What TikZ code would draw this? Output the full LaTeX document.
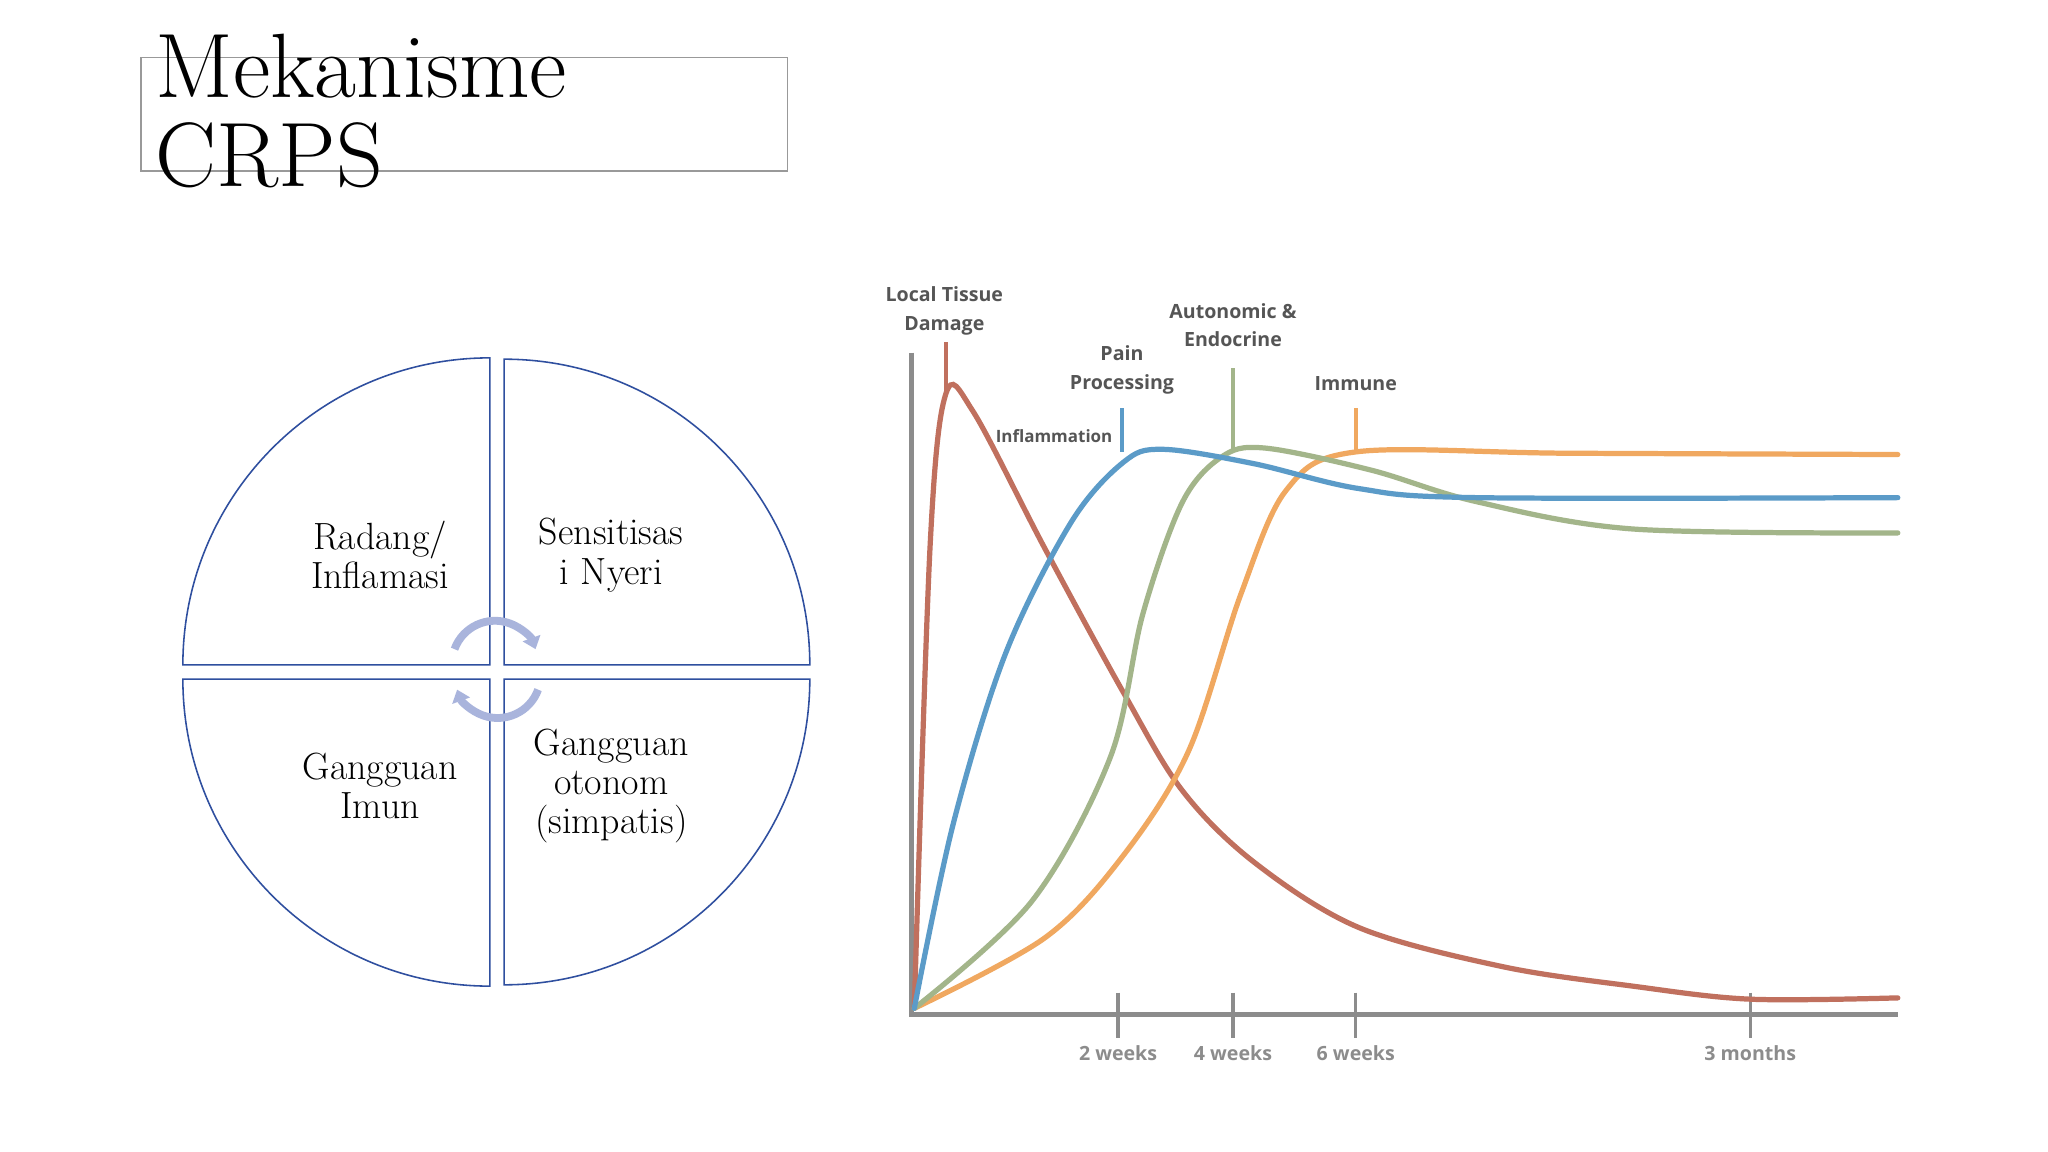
\documentclass[tikz,border=0pt]{standalone}
\usepackage{fontspec}
\setsansfont{Open Sans}
\usetikzlibrary{arrows.meta}
\definecolor{qblue}{HTML}{2F4F9F}
\definecolor{arr}{HTML}{A9B4DC}
\definecolor{axg}{HTML}{8C8C8C}
\definecolor{cred}{HTML}{C0705E}
\definecolor{cblue}{HTML}{5B9BC8}
\definecolor{cgreen}{HTML}{A3B58A}
\definecolor{corange}{HTML}{F0A860}
\definecolor{lab}{HTML}{555555}
\tikzset{
 quad/.style={draw=qblue,line width=1.2pt},
 qtext/.style={font=\fontsize{29}{30}\selectfont,align=center},
 curve/.style={line width=4pt,line cap=round},
 glab/.style={font=\sffamily\bfseries\fontsize{15}{22}\selectfont,text=lab,align=center},
 tlab/.style={font=\sffamily\bfseries\fontsize{15}{18}\selectfont,text=axg},
 axis/.style={draw=axg,line width=4pt},
 cyc/.style={draw=arr,line width=6pt,-{Triangle[length=9pt,width=14pt]}}
}
\begin{document}
\begin{tikzpicture}[x=1pt,y=-1pt]
\useasboundingbox[fill=white] (0,0) rectangle (1568,882);
% title
\draw[draw=black!40,line width=1pt] (108,44) rectangle (603,131);
\node[anchor=base west,font=\fontsize{70}{68}\selectfont,inner sep=0] (t1) at (119,75) {Mekanisme};
\node[anchor=base west,font=\fontsize{70}{68}\selectfont,inner sep=0] (t2) at (119,143) {CRPS};
% quadrants
\draw[quad] (375,509) -- (140,509) arc[start angle=180,end angle=270,radius=235] -- cycle;
\draw[quad] (386,509) -- (386,275) arc[start angle=270,end angle=360,radius=234] -- cycle;
\draw[quad] (375,520) -- (375,755) arc[start angle=90,end angle=180,radius=235] -- cycle;
\draw[quad] (386,520) -- (620,520) arc[start angle=0,end angle=90,radius=234] -- cycle;
\node[qtext] (q1) at (291,425) {Radang/\\Inflamasi};
\node[qtext] (q2) at (468,425) {Sensitisas\\i Nyeri};
\node[qtext] (q3) at (291,602) {Gangguan\\Imun};
\node[qtext] (q4) at (468,602) {Gangguan\\otonom\\(simpatis)};
\draw[cyc] (348,497) arc[start angle=-160,end angle=-20,radius=33];
\draw[cyc] (412,528) arc[start angle=20,end angle=160,radius=33];
% graph
\draw[axis] (698,270) -- (698,777) -- (1453,777);
\foreach \x/\t in {856/2 weeks,944/4 weeks,1038/6 weeks,1340/3 months}{
 \draw[draw=axg,line width=2.5pt] (\x,760) -- (\x,795);
 \node[tlab] at (\x,806) {\t};}
% markers
\draw[cred,line width=3pt] (724,302) -- (724,262);
\draw[cblue,line width=3pt] (859,346) -- (859,312);
\draw[cgreen,line width=3pt] (944,345) -- (944,282);
\draw[corange,line width=3pt] (1038,346) -- (1038,312);
\node[glab] (l1) at (723,238) {Local Tissue\\Damage};
\node[glab] (l2) at (859,283) {Pain\\Processing};
\node[glab,font=\sffamily\bfseries\fontsize{13}{16}\selectfont] (l3) at (807,334) {Inflammation};
\node[glab] (l4) at (944,249) {Autonomic \&\\Endocrine};
\node[glab] (l5) at (1038,294) {Immune};
% curves
\draw[curve,cred] plot[smooth,tension=0.55] coordinates {(700,772) (712,420) (724,302) (745,315) (800,420) (860,530) (905,605) (960,660) (1040,710) (1150,740) (1250,755) (1340,765) (1453,764)};
\draw[curve,corange] plot[smooth,tension=0.55] coordinates {(700,772) (800,718) (860,655) (910,575) (950,455) (985,375) (1038,346) (1200,347) (1453,348)};
\draw[curve,cgreen] plot[smooth,tension=0.55] coordinates {(700,772) (790,690) (850,580) (875,470) (905,385) (935,350) (968,343) (1050,360) (1130,384) (1250,405) (1453,408)};
\draw[curve,cblue] plot[smooth,tension=0.55] coordinates {(700,772) (730,630) (770,500) (820,400) (860,354) (890,344) (960,355) (1040,374) (1130,381) (1453,381)};
\end{tikzpicture}
\end{document}
